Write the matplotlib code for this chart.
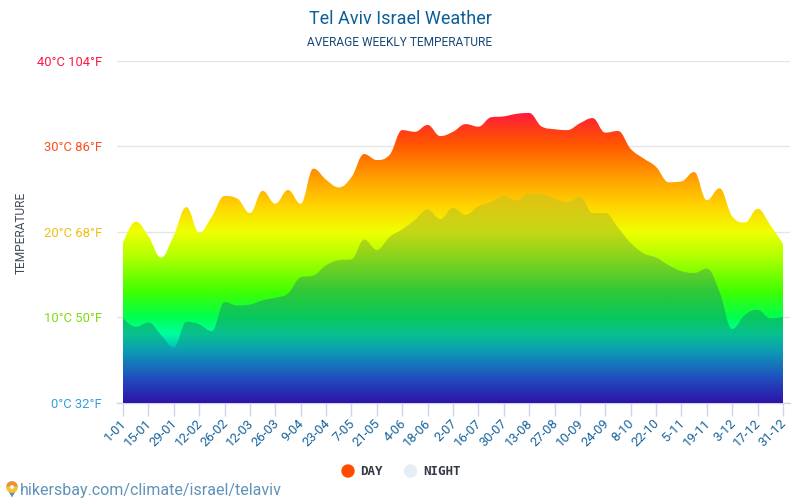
import numpy as np
import matplotlib
matplotlib.use('Agg')
import matplotlib.pyplot as plt
from matplotlib.colors import LinearSegmentedColormap
from matplotlib.path import Path
from matplotlib.patches import PathPatch, Circle, Wedge
from matplotlib.transforms import ScaledTranslation

plt.rcParams['font.family'] = ['Roboto', 'DejaVu Sans']

tick_labels = ['1-01', '15-01', '29-01', '12-02', '26-02', '12-03', '26-03', '9-04', '23-04',
               '7-05', '21-05', '4-06', '18-06', '2-07', '16-07', '30-07', '13-08', '27-08',
               '10-09', '24-09', '8-10', '22-10', '5-11', '19-11', '3-12', '17-12', '31-12']

day = [18.7, 21.2, 19.5, 17.0, 19.6, 22.9, 19.9, 21.8, 24.2, 23.9, 22.2, 24.8, 23.3, 24.9,
       23.3, 27.4, 26.1, 25.2, 26.4, 29.1, 28.4, 29.0, 31.9, 31.7, 32.5, 31.2, 31.7, 32.6,
       32.3, 33.4, 33.5, 33.8, 33.9, 32.3, 32.0, 31.9, 32.7, 33.3, 31.6, 31.8, 29.7, 28.6,
       27.6, 25.8, 25.9, 27.0, 23.7, 25.1, 21.8, 21.1, 22.7, 20.8, 18.6]
night = [9.9, 8.9, 9.4, 7.95, 6.5, 9.5, 9.2, 8.4, 11.8, 11.4, 11.5, 12.0, 12.3, 12.8,
         14.7, 14.9, 16.1, 16.7, 16.8, 19.1, 17.9, 19.4, 20.3, 21.4, 22.6, 21.5, 22.8, 22.0,
         23.0, 23.5, 24.2, 23.7, 24.5, 24.4, 23.9, 23.5, 24.1, 22.2, 22.2, 20.5, 18.7, 17.5,
         17.0, 16.1, 15.4, 15.2, 15.7, 13.0, 8.65, 10.3, 10.9, 9.9, 10.05]

y_ticks = [0, 10, 20, 30, 40]
y_labels = ['0°C 32°F', '10°C 50°F', '20°C 68°F', '30°C 86°F', '40°C 104°F']
y_colors = ['#35a0e0', '#7ddc10', '#f0c010', '#ff4d20', '#ff1744']

# gradient stops as (temperature, colour)
day_stops = [(0, '#2e14a8'), (3, '#1f50c0'), (6, '#00b0c0'), (8, '#00ffa0'), (10, '#00ff50'),
             (13, '#40ff00'), (17, '#b0ff00'), (20, '#f0ff00'), (23, '#ffd400'),
             (26, '#ffa400'), (30, '#ff5a00'), (32, '#ff3a1a'), (34, '#ff1744'), (40, '#ff1744')]
night_stops = [(0, '#2e14a8'), (3, '#1f50c0'), (6, '#0c9cb4'), (8, '#08c090'), (10, '#08c85c'),
               (13, '#30c838'), (17, '#88d41c'), (20, '#c4d814'), (23, '#dcc814'), (26, '#e4bc10'),
               (40, '#e4bc10')]


def cmap_from(stops):
    return LinearSegmentedColormap.from_list('g', [(t / 40, c) for t, c in stops], N=512)


# highcharts style spline, flat at the local peaks
def spline_path(xs, ys, base=0):
    verts = [(xs[0], base), (xs[0], ys[0])]
    codes = [Path.MOVETO, Path.LINETO]
    n = len(xs)
    left = [None] * n
    right = [None] * n
    for i in range(1, n - 1):
        x, y = xs[i], ys[i]
        lx = (1.5 * x + xs[i - 1]) / 2.5
        ly = (1.5 * y + ys[i - 1]) / 2.5
        rx = (1.5 * x + xs[i + 1]) / 2.5
        ry = (1.5 * y + ys[i + 1]) / 2.5
        corr = (ry - ly) * (rx - x) / (rx - lx) + y - ry
        ly += corr
        ry += corr
        if ly > ys[i - 1] and ly > y:
            ly = max(ys[i - 1], y)
            ry = 2 * y - ly
        elif ly < ys[i - 1] and ly < y:
            ly = min(ys[i - 1], y)
            ry = 2 * y - ly
        if ry > ys[i + 1] and ry > y:
            ry = max(ys[i + 1], y)
            ly = 2 * y - ry
        elif ry < ys[i + 1] and ry < y:
            ry = min(ys[i + 1], y)
            ly = 2 * y - ry
        left[i] = (lx, ly)
        right[i] = (rx, ry)
    for i in range(1, n):
        c1 = right[i - 1] if right[i - 1] else (xs[i - 1], ys[i - 1])
        c2 = left[i] if left[i] else (xs[i], ys[i])
        verts += [c1, c2, (xs[i], ys[i])]
        codes += [Path.CURVE4] * 3
    verts += [(xs[-1], base), (xs[0], base)]
    codes += [Path.LINETO, Path.CLOSEPOLY]
    return Path(verts, codes)


fig = plt.figure(figsize=(8, 5), dpi=100)
ax = fig.add_axes([117 / 800, 1 - 403 / 500, (790 - 117) / 800, (403 - 60.8) / 500])
x = np.arange(len(day))
step = 660 / 52
xlim = (-6 / step, 52 + 7 / step)
ax.set_xlim(xlim)
ax.set_ylim(0, 40)

for s in ['top', 'left', 'right']:
    ax.spines[s].set_visible(False)
ax.spines['bottom'].set_color('#ccd6eb')
ax.spines['bottom'].set_linewidth(1)
ax.yaxis.grid(True, color='#e6e6e6', lw=1)
ax.set_axisbelow(True)

grad = np.linspace(0, 1, 1024).reshape(-1, 1)
for values, stops, z in [(day, day_stops, 2), (night, night_stops, 3)]:
    im = ax.imshow(grad, cmap=cmap_from(stops), origin='lower', aspect='auto',
                   extent=(xlim[0], xlim[1], 0, 40), zorder=z, interpolation='bilinear')
    im.set_clip_path(PathPatch(spline_path(list(x), list(values)), transform=ax.transData))
ax.set_xlim(xlim)
ax.set_ylim(0, 40)

ax.set_xticks(x[::2])
ax.set_xticklabels(tick_labels, rotation=45, ha='right', rotation_mode='anchor',
                   fontsize=9.4, color='#17649c')
ax.tick_params(axis='x', length=9, width=1, color='#ccd6eb', pad=1)
# pull the slanted labels a bit left of the ticks
shift = ScaledTranslation(-3 / 100, 0, fig.dpi_scale_trans)
for lab in ax.get_xticklabels():
    lab.set_transform(lab.get_transform() + shift)
ax.set_yticks(y_ticks)
ax.set_yticklabels(y_labels, fontsize=9.4)
ax.tick_params(axis='y', length=0, pad=11)
for lab, c in zip(ax.get_yticklabels(), y_colors):
    lab.set_color(c)

fig.text(400 / 800, 1 - 18.5 / 500, 'Tel Aviv Israel Weather', ha='center', va='center',
         fontsize=13, color='#0c5f98')
fig.text(400 / 800, 1 - 42 / 500, 'AVERAGE WEEKLY TEMPERATURE', ha='center', va='center',
         fontsize=8.6, color='#164a78')
fig.text(21 / 800, 1 - 232.5 / 500, 'TEMPERATURE', rotation=90, ha='center', va='center',
         fontsize=8.6, color='#444b58')

# overlay in pixel coordinates for legend and pin
over = fig.add_axes([0, 0, 1, 1])
over.set_xlim(0, 800)
over.set_ylim(500, 0)
over.axis('off')
over.add_patch(Circle((348, 471), 6, color='#ff4d00'))
over.add_patch(Circle((410.5, 471), 6, color='#e6eef5'))
over.text(360.5, 471.5, 'DAY', fontsize=9, family='DejaVu Sans Mono', weight='bold',
          color='#333845', va='center')
over.text(423, 471.5, 'NIGHT', fontsize=9, family='DejaVu Sans Mono', weight='bold',
          color='#333845', va='center')

over.add_patch(PathPatch(Path([(7.2, 489), (12, 497.5), (16.8, 489)],
                              [Path.MOVETO, Path.LINETO, Path.LINETO]),
                         facecolor='#5d8fa8', edgecolor='none'))
over.add_patch(Wedge((12, 487), 5.2, 180, 360, color='#e8903a', width=2.6))
over.add_patch(Wedge((12, 487), 5.2, 0, 180, color='#f6c23a', width=2.6))
over.text(20, 490, 'hikersbay.com/climate/israel/telaviv', fontsize=11.55, color='#5f93b8',
          va='center')

fig.savefig('out.png', dpi=100)
